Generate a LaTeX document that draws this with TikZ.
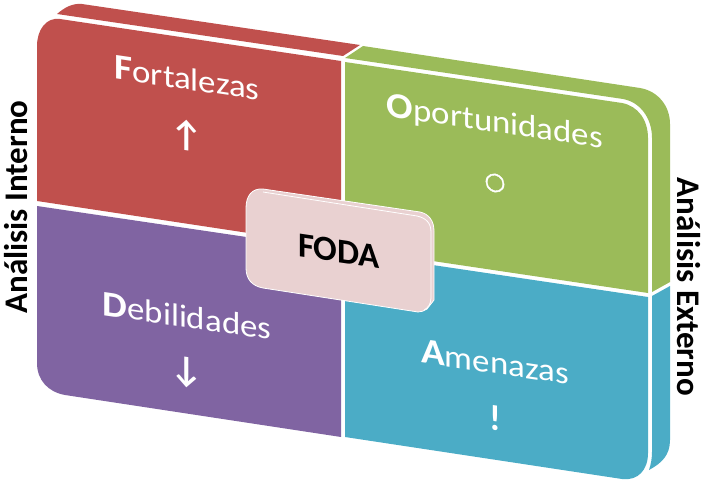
\documentclass[tikz,border=0pt]{standalone}
\usepackage{fontspec}
\setmainfont{Carlito}
\newfontfamily\symbolfont[FakeBold=1.5]{DejaVu Sans}
\newcommand{\inicial}[1]{{\fontsize{36}{36}\selectfont\bfseries #1}}
\definecolor{rojo}{HTML}{C0504D}
\definecolor{verde}{HTML}{9BBB59}
\definecolor{morado}{HTML}{8064A2}
\definecolor{azul}{HTML}{4BACC6}
\definecolor{rosa}{HTML}{E9D1D1}

\begin{document}
\begin{tikzpicture}[x=1pt,y=-1pt]
    % `cara' is used for the slanted white words on the four panels.
    % `marca' is used for the small sign under each word.
    % `lado' is used for the two black words at the sides.
    \tikzstyle{cara} = [text=white,transform shape,yslant=-0.147,xscale=1.09,font=\fontsize{32}{32}\selectfont]
    \tikzstyle{marca} = [text=white,transform shape,yslant=-0.147,font=\fontsize{36}{36}\selectfont\bfseries]
    \tikzstyle{lado} = [text=black,font=\fontsize{33}{33}\selectfont\bfseries]
    \useasboundingbox (0,0) rectangle (709,484);
    %
    % Red panel and its top strip.
    \fill[rojo] (37,46) .. controls (37,30) and (46,17) .. (60,19) -- (341,61) -- (341,247) -- (37,201) -- cycle;
    \fill[rojo] (57,14) .. controls (64,8) and (72,3) .. (82,4) -- (360,45) -- (343,56) -- cycle;
    % Green panel and its side.
    \fill[verde] (345,62) -- (622,103) .. controls (638,106) and (648,120) .. (648,138) -- (648,293) -- (345,248) -- cycle;
    \fill[verde] (345,58) -- (363,46) -- (640,88) .. controls (658,91) and (670,106) .. (670,124) -- (670,282) -- (652,292) -- (652,138) .. controls (652,118) and (640,102) .. (623,99) -- cycle;
    % Purple panel.
    \fill[morado] (37,206) -- (341,251) -- (341,437) -- (65,395) .. controls (48,392) and (37,380) .. (37,363) -- cycle;
    % Blue panel and its side.
    \fill[azul] (345,252) -- (648,297) -- (648,453) .. controls (648,470) and (638,481) .. (622,479) -- (345,437) -- cycle;
    \fill[azul] (652,296) -- (670,286) -- (670,440) .. controls (670,455) and (662,463) .. (649,470) .. controls (651,464) and (652,458) .. (652,452) -- cycle;
    %
    % Centre box, with a thin white edge.
    \draw[fill=rosa,draw=white,line width=0.8pt] (246,208) .. controls (246,196) and (252,188) .. (263,189) -- (420,212) .. controls (429,214) and (434,221) .. (434,231) -- (434,300) -- (427,309) .. controls (424,311) and (421,312) .. (418,312) -- (263,288) .. controls (252,286) and (246,279) .. (246,268) -- cycle;
    \draw[white,line width=0.8pt] (263,192) -- (417,216) .. controls (426,218) and (431,223) .. (431,232) -- (431,298) .. controls (431,304) and (428,308) .. (424,310);
    %
    \node[cara] (fortalezas) at (187,78) {\inicial{F}ortalezas};
    \node[marca] (arriba) at (187,135) {↑};
    \node[cara] (oportunidades) at (495,123) {\inicial{O}portunidades};
    \node[marca,font=\symbolfont\fontsize{24}{24}\selectfont] (circulo) at (495,183) {○};
    \node[cara] (debilidades) at (187,316) {\inicial{D}ebilidades};
    \node[marca] (abajo) at (187,373) {↓};
    \node[cara] (amenazas) at (495,362) {\inicial{A}menazas};
    \node[marca] (alerta) at (495,418) {!};
    \node[transform shape,yslant=-0.147,font=\fontsize{35}{35}\selectfont\bfseries] (foda) at (339,251) {FODA};
    %
    \node[lado,rotate=90] (interno) at (16,207) {Análisis Interno};
    \node[lado,rotate=-90] (externo) at (689,287) {Análisis Externo};
\end{tikzpicture}
\end{document}
